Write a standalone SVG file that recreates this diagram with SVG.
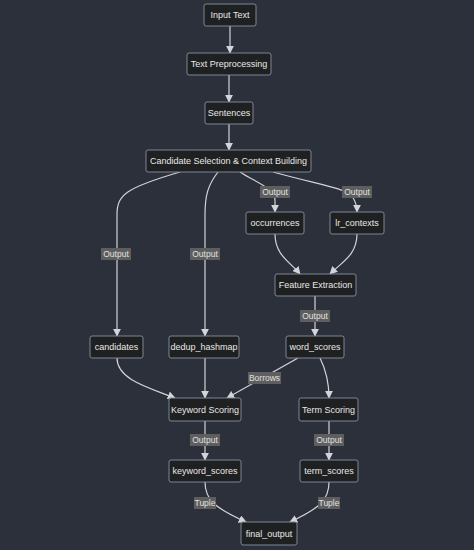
<svg xmlns="http://www.w3.org/2000/svg" width="474" height="550" viewBox="0 0 474 550">
<style>
.node rect{fill:#1f2021;stroke:#7d8696;stroke-width:1}
.node text{fill:#e8e8e8;font-family:"Liberation Sans",Arial,sans-serif;font-size:9px;text-anchor:middle;dominant-baseline:central}
.edges path{fill:none;stroke:#d3d3d8;stroke-width:1.2;marker-end:url(#arr)}
.lbl rect{fill:#5e5e5e}
.lbl text{fill:#e0e0e0;font-family:"Liberation Sans",Arial,sans-serif;font-size:8.5px;text-anchor:middle;dominant-baseline:central}
</style>
<defs>
<marker id="arr" viewBox="0 0 10 10" refX="9" refY="5" markerWidth="8" markerHeight="8" markerUnits="userSpaceOnUse" orient="auto">
<path d="M0,0 L10,5 L0,10 z" fill="#d3d3d8"/>
</marker>
</defs>
<rect width="474" height="550" fill="#2b303b"/>
<g id="connectors" class="edges">
<path d="M230,26 L230,53"/>
<path d="M229,75 L229,102"/>
<path d="M229,124 L229,150"/>
<path d="M180,172 C125,188 117,195 117,215 L117,336"/>
<path d="M218,172 C208,185 205,195 205,215 L205,336"/>
<path d="M240,172 C255,182 275,188 275,200 L275,212"/>
<path d="M273,172 C320,185 345,188 352,196 C356,202 357,206 357,212"/>
<path d="M275,234 C275,255 290,262 300,274"/>
<path d="M357,234 C357,255 342,262 330,274"/>
<path d="M315,296 L315,336"/>
<path d="M117,358 C117,380 150,388 175,398"/>
<path d="M205,358 L205,398"/>
<path d="M298,358 L227,398"/>
<path d="M320,358 C326,370 329,382 329,398"/>
<path d="M205,421 L205,460"/>
<path d="M329,421 L329,460"/>
<path d="M205,482 C205,500 215,508 246,522"/>
<path d="M329,482 C329,500 320,508 290,522"/>
</g>
<g id="edge-labels">
<g class="lbl"><rect x="101" y="248" width="30" height="12"/><text x="116" y="254">Output</text></g>
<g class="lbl"><rect x="190" y="248" width="30" height="12"/><text x="205" y="254">Output</text></g>
<g class="lbl"><rect x="260" y="186" width="30" height="12"/><text x="275" y="192">Output</text></g>
<g class="lbl"><rect x="342" y="186" width="30" height="12"/><text x="357" y="192">Output</text></g>
<g class="lbl"><rect x="300" y="310" width="30" height="12"/><text x="315" y="316">Output</text></g>
<g class="lbl"><rect x="248" y="372" width="33" height="12"/><text x="264.5" y="378">Borrows</text></g>
<g class="lbl"><rect x="190" y="434" width="30" height="12"/><text x="205" y="440">Output</text></g>
<g class="lbl"><rect x="314" y="434" width="30" height="12"/><text x="329" y="440">Output</text></g>
<g class="lbl"><rect x="194" y="497" width="22" height="12"/><text x="205" y="503">Tuple</text></g>
<g class="lbl"><rect x="318" y="497" width="22" height="12"/><text x="329" y="503">Tuple</text></g>
</g>
<g id="n-input" class="node"><rect x="204" y="4" width="52" height="22" rx="2"/><text x="230" y="15">Input Text</text></g>
<g id="n-prep" class="node"><rect x="187" y="53" width="84" height="22" rx="2"/><text x="229" y="64">Text Preprocessing</text></g>
<g id="n-sent" class="node"><rect x="205" y="102" width="48" height="22" rx="2"/><text x="229" y="113">Sentences</text></g>
<g id="n-cand-sel" class="node"><rect x="146" y="150" width="165" height="22" rx="2"/><text x="228.5" y="161">Candidate Selection &amp; Context Building</text></g>
<g id="n-occ" class="node"><rect x="246" y="212" width="58" height="22" rx="2"/><text x="275" y="223">occurrences</text></g>
<g id="n-lr" class="node"><rect x="330" y="212" width="54" height="22" rx="2"/><text x="357" y="223">lr_contexts</text></g>
<g id="n-feat" class="node"><rect x="275" y="274" width="81" height="22" rx="2"/><text x="315.5" y="285">Feature Extraction</text></g>
<g id="n-candidates" class="node"><rect x="90" y="336" width="53" height="22" rx="2"/><text x="116.5" y="347">candidates</text></g>
<g id="n-dedup" class="node"><rect x="169" y="336" width="70" height="22" rx="2"/><text x="204" y="347">dedup_hashmap</text></g>
<g id="n-word" class="node"><rect x="286" y="336" width="58" height="22" rx="2"/><text x="315" y="347">word_scores</text></g>
<g id="n-kws" class="node"><rect x="169" y="398" width="72" height="23" rx="2"/><text x="205" y="409.5">Keyword Scoring</text></g>
<g id="n-ts" class="node"><rect x="299" y="398" width="59" height="23" rx="2"/><text x="328.5" y="409.5">Term Scoring</text></g>
<g id="n-kwscores" class="node"><rect x="169" y="460" width="72" height="22" rx="2"/><text x="205" y="471">keyword_scores</text></g>
<g id="n-tscores" class="node"><rect x="300" y="460" width="58" height="22" rx="2"/><text x="329" y="471">term_scores</text></g>
<g id="n-final" class="node"><rect x="241" y="522" width="56" height="23" rx="2"/><text x="269" y="533.5">final_output</text></g>
</svg>
